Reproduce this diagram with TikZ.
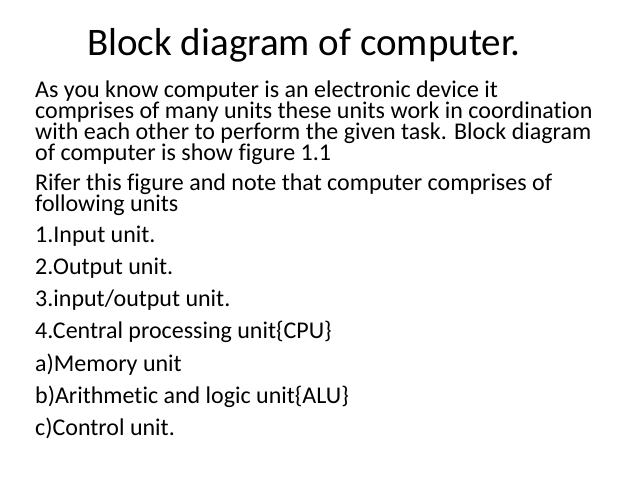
\documentclass[tikz,border=0pt]{standalone}
\usepackage{fontspec}
\setmainfont[Ligatures={NoCommon}]{Carlito}
\begin{document}
\begin{tikzpicture}[x=1pt,y=-1pt,
  body/.style={anchor=base west,inner sep=0pt,font=\fontsize{24}{26}\selectfont}]
\useasboundingbox (0,0) rectangle (638,478);
\node[anchor=base west,inner sep=0pt,font=\fontsize{39}{41}\selectfont] (title) at (87,56) {Block diagram of computer.};
\node[body] (l1) at (35,98) {As you know computer is an electronic device it};
\node[body] (l2) at (35,119) {comprises of many units these units work in coordination};
\node[body] (l3) at (35,140) {with each other to perform the given task. Block diagram};
\node[body] (l4) at (35,161) {of computer is show figure 1.1};
\node[body] (l5) at (35,191) {Rifer this figure and note that computer comprises of};
\node[body] (l6) at (35,212) {following units};
\node[body] (l7) at (35,243) {1.Input unit.};
\node[body] (l8) at (35,275) {2.Output unit.};
\node[body] (l9) at (35,307) {3.input/output unit.};
\node[body] (l10) at (35,339) {4.Central processing unit\{CPU\}};
\node[body] (l11) at (35,372) {a)Memory unit};
\node[body] (l12) at (35,404) {b)Arithmetic and logic unit\{ALU\}};
\node[body] (l13) at (35,436) {c)Control unit.};
\end{tikzpicture}
\end{document}
